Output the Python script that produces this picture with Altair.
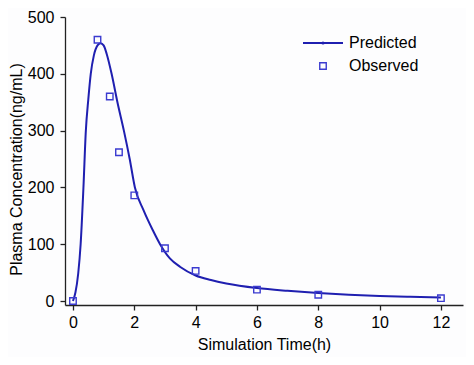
import altair as alt
import pandas as pd

# Observed data
obs_time = [0, 0.8, 1.2, 1.5, 2, 3, 4, 6, 8, 12]
obs_conc = [0, 460, 360, 262, 186, 93, 53, 20, 11, 5]

# Predicted curve
pred_time = [0, 0.08, 0.17, 0.25, 0.34, 0.42, 0.5, 0.58, 0.68, 0.8, 0.9, 1.0, 1.1, 1.26, 1.45,
             1.66, 1.85, 2.02, 2.3, 2.6, 2.84, 3.16, 3.5, 4, 4.5, 5, 6, 7, 8, 9, 10, 11, 12]
pred_conc = [0, 15, 48, 100, 198, 300, 355, 400, 432, 450, 454, 450, 435, 400, 350,
             300, 250, 200, 160, 125, 100, 75, 60, 45, 37, 31, 23, 18, 14, 11, 9, 7.5, 6]

x_ticks = list(range(0, 13))
y_ticks = list(range(0, 501, 50))

legend_labels = ["Predicted", "Observed"]

LINE_COLOR = "#1f1fb0"
PT_COLOR = "#3b3bd0"
FONT = "Liberation Sans"

obs = pd.DataFrame({"t": obs_time, "c": obs_conc})
pred = pd.DataFrame({"t": pred_time, "c": pred_conc})

xscale = alt.Scale(domain=[-0.26, 12.72], nice=False, zero=False)
yscale = alt.Scale(domain=[-7, 500], nice=False, zero=False)

xaxis = alt.Axis(
    title="Simulation Time(h)", values=x_ticks, grid=False,
    labelExpr="datum.value % 2 === 0 ? datum.label : ''",
    tickSize={"condition": {"test": "datum.value % 2 === 0", "value": 5}, "value": 3},
    tickColor="#222222", domainColor="#222222", domainWidth=1.3, tickWidth=1.3,
    labelFont=FONT, labelFontSize=16, labelColor="black", labelPadding=4,
    titleFont=FONT, titleFontSize=16, titleFontWeight="normal", titleColor="black",
    titlePadding=6,
)
yaxis = alt.Axis(
    title="Plasma Concentration(ng/mL)", values=y_ticks, grid=False,
    labelExpr="datum.value % 100 === 0 ? datum.label : ''",
    tickSize={"condition": {"test": "datum.value % 100 === 0", "value": 5}, "value": 3},
    tickColor="#222222", domainColor="#222222", domainWidth=1.3, tickWidth=1.3,
    labelFont=FONT, labelFontSize=16, labelColor="black", labelPadding=6,
    titleFont=FONT, titleFontSize=16, titleFontWeight="normal", titleColor="black",
    titlePadding=3, titleY=152,
)

line = alt.Chart(pred).mark_line(color=LINE_COLOR, strokeWidth=2, interpolate="monotone").encode(
    x=alt.X("t:Q", scale=xscale, axis=xaxis),
    y=alt.Y("c:Q", scale=yscale, axis=yaxis),
)

points = alt.Chart(obs).mark_point(shape="square", filled=False, color=PT_COLOR,
                                   size=42, strokeWidth=1.4, opacity=1).encode(
    x=alt.X("t:Q", scale=xscale),
    y=alt.Y("c:Q", scale=yscale),
)

# Legend (pixel positions within plot area)
leg_line = alt.Chart(pd.DataFrame({"k": [legend_labels[0]]})).mark_rule(
    color=LINE_COLOR, strokeWidth=2).encode(
    x=alt.value(238), x2=alt.value(278), y=alt.value(26))
leg_dot = alt.Chart(pd.DataFrame({"k": [legend_labels[0]]})).mark_point(
    shape="circle", filled=True, color=LINE_COLOR, size=10, opacity=1).encode(
    x=alt.value(258), y=alt.value(26))
leg_sq = alt.Chart(pd.DataFrame({"k": [legend_labels[1]]})).mark_point(
    shape="square", filled=False, color=PT_COLOR, size=42, strokeWidth=1.4, opacity=1).encode(
    x=alt.value(258), y=alt.value(49))
leg_text = alt.Chart(pd.DataFrame({"k": legend_labels, "yy": [26, 49]})).mark_text(
    align="left", baseline="middle", font=FONT, fontSize=16, color="black").encode(
    x=alt.value(284), y=alt.Y("yy:Q", scale=None), text="k:N")

chart = alt.layer(line, points, leg_line, leg_dot, leg_sq, leg_text).properties(
    width=398, height=288,
    autosize=alt.AutoSizeParams(type="none"),
    padding={"left": 57, "top": 9, "right": 3, "bottom": 52},
    background="#fdfdfe",
).configure_view(stroke=None)

chart.save("out.html", embed_options={"renderer": "svg", "actions": False})
